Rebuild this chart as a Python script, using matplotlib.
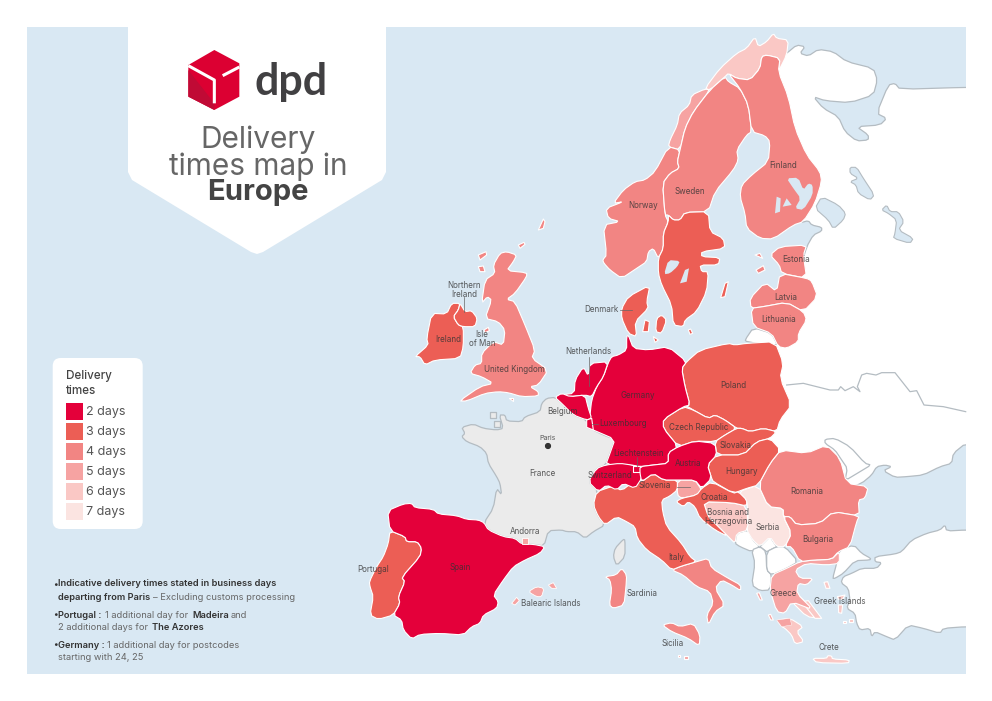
import matplotlib
matplotlib.use("Agg")
import matplotlib.pyplot as plt
from matplotlib.patches import Polygon, Rectangle, FancyBboxPatch, Circle

plt.rcParams['font.family'] = ['Inter', 'DejaVu Sans']

SEA = '#d9e8f3'
FRANCE = '#ebebeb'
GREY = '#b4bcc2'
TEXT = '#444444'
DAY_COLORS = ['#e4003a', '#ec5e55', '#f28583', '#f6a3a2', '#fac8c5', '#fbe4e1']
DAY_LABELS = ['2 days', '3 days', '4 days', '5 days', '6 days', '7 days']


# outlines in 3x crop coordinates, crop origin first
def crop(ox, oy, pts):
    return [(ox + x / 3, oy + y / 3) for x, y in pts]


WEST = (340, 340)
SOUTH = (600, 330)
NORTH = (590, 25)
UK = (400, 210)
EAST = (770, 350)
AEGEAN = (780, 540)
RUSSIA = (780, 30)

# ---- not served, white land ----
russia = ([(772, 62)]
          + crop(*RUSSIA, [(20, 70), (50, 45), (75, 50), (60, 70), (85, 78), (115, 58), (160, 65), (200, 95), (280, 115),
                           (292, 150), (280, 195), (210, 218), (135, 212), (100, 200), (130, 235), (175, 260), (195, 305),
                           (230, 333), (265, 330), (265, 315), (230, 290), (300, 285), (320, 265), (290, 250), (325, 165),
                           (345, 160), (360, 178), (557, 172)])
          + [(1010, 87), (1010, 443)]
          + crop(*EAST, [(587, 280), (550, 310), (545, 340), (510, 350), (460, 375), (410, 380), (375, 382), (340, 362),
                         (365, 350), (345, 345), (320, 350), (305, 375), (275, 400), (230, 415)])
          + [(800, 490), (730, 400), (790, 320), (800, 270)]
          + crop(*RUSSIA, [(80, 650), (100, 615), (125, 603), (125, 592), (95, 585), (85, 572), (62, 578), (0, 300)]))
moldova = crop(*EAST, [(165, 268), (195, 265), (240, 290), (285, 340), (303, 345), (270, 365), (225, 392), (232, 355),
                       (215, 330), (195, 300), (165, 280)])
belarus_line = crop(*EAST, [(50, 105), (100, 100), (180, 120), (205, 120), (212, 110), (225, 122), (250, 110), (270, 125),
                            (262, 110), (275, 75), (290, 70), (318, 75), (335, 68), (375, 68), (420, 125), (440, 122),
                            (462, 165), (520, 170), (587, 185)])
kaliningrad = crop(*NORTH, [(465, 945), (490, 908), (545, 925), (565, 965), (470, 950)])
turkey_asia = ([(1010, 627)]
               + crop(*AEGEAN, [(557, 260), (490, 265), (480, 280), (430, 265), (385, 255), (345, 300), (320, 290),
                                (285, 275), (275, 290), (270, 265), (240, 270), (230, 250), (225, 220), (200, 205),
                                (210, 180), (205, 145), (183, 128), (190, 110), (215, 100), (245, 85), (290, 85),
                                (305, 68), (285, 65), (285, 50), (345, 42), (365, 35), (395, 0)])
               + crop(*EAST, [(470, 550), (510, 540), (525, 525), (530, 543), (587, 540)])
               + [(1010, 530)])
turkey_eu = crop(*AEGEAN, [(158, 115), (170, 70), (178, 30), (222, 15), (245, 40), (272, 55), (270, 60), (225, 62),
                           (190, 100), (165, 115)])
montenegro = crop(*SOUTH, [(405, 640), (410, 610), (445, 600), (458, 630), (480, 650), (455, 665), (420, 650)])
kosovo = crop(*SOUTH, [(480, 650), (510, 620), (530, 650), (500, 665)])
albania = crop(*SOUTH, [(455, 660), (480, 650), (498, 665), (500, 720), (515, 735), (510, 780), (480, 782), (455, 765),
                        (465, 700)])
macedonia = crop(*SOUTH, [(500, 665), (530, 650), (555, 650), (595, 695), (560, 715), (515, 735), (500, 720)])
white_land = [russia, moldova, kaliningrad, turkey_asia, turkey_eu, montenegro, kosovo, albania, macedonia]

# lakes
ladoga = crop(*RUSSIA, [(125, 500), (175, 525), (197, 550), (190, 570), (160, 597), (145, 570), (105, 535)])
onega = crop(*RUSSIA, [(210, 412), (230, 412), (250, 445), (283, 495), (270, 510), (235, 490), (228, 465), (210, 455),
                       (235, 445), (210, 430)])
rybinsk = crop(*RUSSIA, [(305, 540), (320, 525), (330, 545), (355, 545), (372, 575), (355, 600), (400, 625), (390, 640),
                         (340, 625), (345, 610), (350, 570), (325, 550)])
russian_lakes = [ladoga, onega, rybinsk]

# ---- France ----
france = crop(*WEST, [(605, 190), (620, 175), (645, 172), (665, 190), (700, 225), (740, 240), (740, 262), (760, 270),
                      (790, 285), (825, 298), (810, 340), (797, 375), (770, 385), (745, 425), (775, 455), (760, 495),
                      (775, 530), (795, 555), (760, 575), (735, 595), (710, 575), (680, 575), (665, 570), (625, 572),
                      (612, 618), (580, 613), (545, 612), (525, 595), (490, 590), (445, 570), (432, 548), (460, 505),
                      (470, 445), (485, 465), (480, 430), (470, 410), (445, 370), (440, 340), (420, 320), (380, 305),
                      (365, 290), (375, 280), (365, 262), (400, 252), (430, 265), (470, 270), (490, 265), (478, 225),
                      (495, 225), (500, 243), (545, 245), (555, 230), (600, 215)])
corsica = crop(*WEST, [(825, 625), (850, 598), (855, 600), (855, 650), (830, 677), (820, 650)])
jersey = crop(*WEST, [(450, 215), (467, 215), (467, 233), (450, 233)])
guernsey = crop(*WEST, [(462, 243), (480, 243), (480, 260), (462, 260)])
france_parts = [france, corsica, jersey, guernsey]

# ---- 2 days ----
spain = crop(*WEST, [(143, 512), (190, 492), (215, 490), (225, 503), (280, 508), (295, 522), (350, 527), (380, 538),
                     (415, 540), (432, 548), (445, 570), (490, 590), (525, 595), (545, 612), (580, 613), (615, 620),
                     (600, 640), (555, 660), (520, 680), (490, 720), (460, 765), (475, 785), (470, 805), (430, 825),
                     (420, 850), (395, 860), (370, 885), (300, 880), (240, 883), (215, 897), (190, 870), (185, 840),
                     (160, 825), (180, 790), (175, 770), (195, 725), (185, 712), (240, 650), (245, 625), (232, 605),
                     (200, 605), (195, 590), (150, 572)])
germany = (crop(*SOUTH, [(85, 15), (100, 55), (145, 60), (205, 50), (260, 95), (245, 115), (255, 170), (270, 225),
                         (250, 230), (190, 268), (190, 295), (235, 350), (205, 368), (205, 400), (160, 405), (120, 410),
                         (95, 405), (17, 405), (30, 370), (45, 328), (-20, 300), (-40, 292), (-30, 255), (-25, 210),
                         (-10, 170), (10, 140), (25, 98), (35, 80), (55, 75), (80, 60), (80, 20)]))
netherlands = crop(*WEST, [(660, 165), (703, 160), (705, 120), (730, 80), (745, 108), (750, 70), (805, 65), (790, 110),
                           (770, 140), (755, 170), (735, 165), (690, 170)])
belgium = crop(*WEST, [(645, 172), (665, 160), (690, 170), (735, 165), (745, 205), (755, 235), (740, 240), (700, 225),
                       (665, 190)])
luxembourg = crop(*WEST, [(740, 240), (755, 235), (760, 270), (740, 262)])
switzerland = crop(*WEST, [(745, 425), (770, 385), (797, 375), (840, 370), (875, 375), (905, 385), (905, 415), (885, 445),
                           (850, 430), (830, 450), (800, 435), (775, 455)])
liechtenstein = crop(*WEST, [(880, 377), (900, 377), (900, 395), (880, 395)])
austria = crop(*SOUTH, [(120, 410), (160, 405), (205, 400), (205, 368), (235, 350), (285, 333), (345, 340), (350, 375),
                        (322, 405), (335, 445), (305, 475), (285, 450), (232, 450), (190, 450), (160, 430), (125, 455),
                        (120, 430)])
# ---- 3 days ----
portugal = crop(*WEST, [(150, 572), (195, 590), (200, 605), (232, 605), (245, 625), (240, 650), (185, 712), (195, 725),
                        (175, 770), (180, 790), (160, 825), (115, 838), (90, 825), (100, 770), (90, 740), (88, 725),
                        (110, 680), (130, 650), (145, 610)])
ireland = crop(*UK, [(45, 440), (85, 405), (80, 385), (95, 310), (140, 312), (155, 280), (180, 280), (175, 300), (160, 320),
                     (175, 345), (190, 350), (190, 410), (180, 445), (105, 450), (75, 465), (60, 440)])
north_ireland = crop(*UK, [(180, 280), (195, 305), (215, 302), (232, 325), (225, 350), (190, 350), (175, 345), (160, 320),
                           (175, 300)])
poland = crop(*SOUTH, [(260, 95), (300, 60), (385, 40), (405, 45), (440, 40), (525, 35), (550, 100), (540, 145), (575, 225),
                       (540, 270), (530, 305), (490, 295), (450, 305), (425, 295), (410, 295), (375, 270), (345, 255),
                       (325, 265), (280, 240), (255, 225), (270, 225), (255, 170), (245, 115)])
czech = crop(*SOUTH, [(190, 268), (250, 230), (280, 240), (325, 265), (345, 255), (375, 270), (410, 295), (375, 315),
                      (345, 335), (285, 333), (235, 350), (190, 295)])
slovakia = crop(*SOUTH, [(345, 335), (375, 315), (410, 295), (425, 295), (450, 305), (490, 295), (530, 305), (510, 325),
                         (470, 335), (430, 375), (350, 375)])
hungary = crop(*SOUTH, [(350, 375), (430, 375), (470, 335), (510, 325), (542, 360), (510, 400), (475, 465), (440, 475),
                        (400, 490), (340, 455), (335, 445), (322, 405)])
croatia = crop(*SOUTH, [(335, 455), (400, 490), (415, 485), (440, 510), (440, 528), (395, 518), (310, 515), (325, 560),
                        (340, 575), (385, 620), (345, 600), (300, 565), (285, 530), (265, 515), (250, 530), (228, 515),
                        (245, 505), (290, 495), (305, 475)])
italy_north = crop(*SOUTH, [(-10, 485), (40, 468), (65, 482), (100, 455), (125, 455), (160, 430), (190, 450), (232, 450),
                            (232, 480), (210, 498), (185, 510), (188, 545), (200, 590), (245, 640), (270, 680), (290, 695),
                            (245, 708), (215, 720), (185, 690), (140, 660), (112, 625), (105, 590), (80, 575), (50, 560),
                            (15, 585), (-5, 560), (-20, 525)])
sweden_south = crop(*NORTH, [(235, 570), (250, 585), (270, 585), (285, 562), (355, 560), (360, 620), (400, 640), (405, 670),
                             (335, 680), (335, 695), (390, 698), (385, 720), (330, 720), (335, 740), (355, 740), (350, 800),
                             (320, 860), (285, 885), (280, 905), (250, 900), (245, 840), (215, 780), (205, 745), (205, 700),
                             (220, 670), (220, 625), (235, 590)])
gotland = crop(*NORTH, [(392, 818), (405, 775), (415, 770), (405, 815)])
oland = crop(*NORTH, [(295, 915), (302, 912), (308, 925), (300, 928)])
jutland = crop(*NORTH, [(95, 850), (115, 815), (180, 780), (170, 830), (175, 850), (135, 890), (140, 935), (115, 925),
                        (95, 880)])
zealand = crop(*NORTH, [(200, 880), (215, 870), (230, 885), (215, 925), (197, 920)])
fyn = crop(*NORTH, [(165, 885), (178, 890), (175, 920), (158, 920)])
lolland = crop(*NORTH, [(190, 935), (205, 945), (195, 952)])
# ---- 4 days ----
uk = crop(*UK, [(300, 130), (320, 125), (350, 135), (340, 155), (320, 182), (380, 188), (380, 200), (345, 250), (320, 268),
                (345, 275), (375, 345), (405, 420), (395, 445), (445, 480), (415, 525), (390, 530), (415, 545), (415, 558),
                (365, 560), (325, 548), (295, 545), (255, 550), (200, 573), (178, 573), (240, 530), (280, 520), (245, 500),
                (210, 490), (225, 465), (245, 460), (245, 430), (280, 395), (310, 405), (315, 360), (295, 335), (255, 325),
                (275, 270), (262, 260), (245, 280), (255, 210), (285, 190), (280, 165)])
hebrides = crop(*UK, [(235, 135), (258, 125), (260, 135), (240, 150)])
skye = crop(*UK, [(235, 170), (250, 168), (255, 185), (240, 185)])
orkney = crop(*UK, [(355, 105), (372, 97), (375, 103), (360, 115)])
shetland = crop(*UK, [(415, 60), (430, 27), (435, 35), (430, 55)])
isle_of_man = crop(*UK, [(252, 360), (265, 352), (268, 362), (255, 368)])
wight = crop(*UK, [(328, 565), (340, 565), (340, 572)])
norway = crop(*NORTH, [(38, 705), (50, 690), (40, 600), (90, 590), (55, 580), (48, 550), (100, 530), (70, 535), (100, 495),
                       (135, 470), (165, 465), (195, 440), (235, 365), (270, 375), (262, 410), (268, 430), (240, 445),
                       (218, 475), (225, 570), (235, 590), (220, 625), (220, 670), (205, 700), (190, 670), (175, 680),
                       (170, 710), (140, 730), (95, 760), (60, 735), (42, 715)])
sweden_north = crop(*NORTH, [(360, 195), (405, 155), (415, 170), (450, 190), (475, 240), (485, 320), (470, 330), (440, 375),
                             (445, 405), (430, 435), (375, 500), (355, 560), (285, 562), (270, 585), (250, 585), (235, 570),
                             (225, 570), (218, 475), (240, 445), (268, 430), (262, 410), (270, 375), (285, 310), (310, 260)])
finland = crop(*NORTH, [(415, 145), (440, 160), (480, 165), (510, 130), (515, 95), (530, 90), (570, 100), (565, 140),
                        (595, 215), (615, 310), (650, 390), (690, 440), (695, 470), (675, 535), (640, 590), (610, 600),
                        (550, 642), (510, 640), (470, 610), (465, 565), (450, 515), (455, 480), (485, 450), (535, 410),
                        (540, 350), (525, 332), (485, 320), (475, 240), (450, 190)])
estonia = crop(*NORTH, [(540, 690), (570, 665), (650, 660), (640, 690), (650, 760), (575, 745), (568, 720)])
saaremaa = crop(*NORTH, [(498, 735), (520, 722), (525, 735), (505, 745)])
hiiumaa = crop(*NORTH, [(495, 690), (510, 685), (518, 700)])
latvia = crop(*NORTH, [(480, 820), (525, 772), (560, 800), (570, 745), (650, 760), (665, 768), (683, 815), (640, 860),
                       (590, 832), (520, 845), (483, 850)])
lithuania = crop(*NORTH, [(483, 850), (520, 845), (590, 832), (640, 860), (650, 885), (625, 925), (625, 950), (590, 970),
                          (565, 965), (545, 925), (490, 905)])
romania = crop(*SOUTH, [(542, 360), (620, 370), (680, 345), (720, 385), (740, 460), (805, 470), (795, 505), (775, 510),
                        (778, 558), (700, 545), (660, 580), (590, 585), (570, 560), (550, 560), (550, 535), (505, 530),
                        (475, 465), (510, 400)])
bulgaria = crop(*SOUTH, [(570, 560), (590, 585), (660, 580), (700, 545), (778, 558), (770, 575), (750, 650), (715, 665),
                         (695, 688), (640, 690), (600, 695), (575, 650), (555, 650), (575, 610), (550, 560)])
italy_south = crop(*SOUTH, [(215, 720), (245, 708), (290, 695), (325, 685), (335, 715), (385, 745), (422, 765), (422, 782),
                            (395, 765), (365, 750), (345, 775), (375, 825), (345, 845), (325, 885), (320, 855), (340, 820),
                            (330, 785), (290, 770), (250, 735)])
sicily = crop(*SOUTH, [(187, 885), (215, 878), (240, 890), (280, 880), (300, 915), (298, 948), (265, 925), (215, 905)])
sardinia = crop(*SOUTH, [(15, 740), (48, 735), (65, 715), (80, 735), (78, 770), (72, 825), (40, 835), (28, 825), (35, 780),
                         (30, 750)])
# ---- 5 days ----
nordland = crop(*NORTH, [(235, 365), (240, 345), (262, 300), (268, 265), (298, 240), (305, 210), (345, 192), (360, 195),
                         (310, 260), (285, 310), (270, 375)])
slovenia = crop(*SOUTH, [(232, 450), (285, 450), (305, 480), (290, 495), (245, 505), (232, 495)])
greece = crop(*SOUTH, [(515, 735), (560, 715), (600, 695), (640, 690), (695, 688), (718, 665), (718, 700), (680, 705),
                       (620, 700), (585, 720), (600, 745), (640, 745), (620, 765), (595, 760), (590, 790), (640, 840),
                       (575, 815), (555, 850), (530, 845), (510, 780)])
peloponnese_n = crop(*SOUTH, [(530, 870), (570, 865), (575, 885), (545, 890)])
corfu = crop(*SOUTH, [(470, 790), (478, 788), (487, 810), (480, 810)])
kefalonia = crop(*SOUTH, [(505, 855), (512, 853), (520, 870), (512, 870)])
balearic_m = crop(*WEST, [(565, 755), (590, 740), (612, 745), (605, 770), (590, 770)])
balearic_e = crop(*WEST, [(625, 735), (640, 728), (650, 745), (635, 745)])
balearic_i = crop(*WEST, [(515, 790), (530, 772), (538, 782), (525, 795)])
sicily_islet_1 = crop(*SOUTH, [(233, 975), (240, 975), (240, 981), (233, 981)])
sicily_islet_2 = crop(*SOUTH, [(252, 979), (264, 979), (264, 986), (252, 986)])
# ---- 6 days ----
finnmark = crop(*NORTH, [(345, 190), (390, 130), (440, 85), (470, 70), (495, 35), (505, 65), (530, 50), (550, 25), (560, 40),
                         (595, 45), (590, 90), (565, 140), (570, 100), (530, 90), (515, 95), (510, 130), (480, 165),
                         (440, 160), (415, 145), (405, 155), (360, 195)])
bosnia = crop(*SOUTH, [(310, 515), (395, 518), (440, 528), (445, 600), (410, 610), (405, 640), (385, 620), (340, 575),
                       (325, 560)])
peloponnese_s = crop(*SOUTH, [(530, 870), (570, 865), (610, 890), (590, 905), (612, 935), (585, 942), (575, 915), (555, 895),
                              (545, 890)])
attica = crop(*SOUTH, [(590, 790), (640, 840), (660, 865), (620, 860), (575, 815)])
euboea = crop(*SOUTH, [(605, 815), (625, 812), (665, 865), (645, 865)])
crete = crop(*SOUTH, [(637, 985), (680, 985), (683, 977), (695, 978), (697, 987), (748, 990), (745, 1000), (650, 998)])
aegean_1 = crop(*SOUTH, [(672, 757), (683, 755), (690, 775), (678, 775)])
aegean_2 = crop(*SOUTH, [(712, 800), (735, 795), (728, 808), (715, 808)])
aegean_3 = crop(*SOUTH, [(715, 825), (728, 825), (725, 850), (716, 848)])
aegean_4 = crop(*SOUTH, [(728, 872), (738, 872), (738, 880), (728, 880)])
aegean_5 = crop(*SOUTH, [(748, 868), (758, 868), (758, 876), (748, 876)])
# ---- 7 days ----
serbia = crop(*SOUTH, [(415, 485), (475, 465), (505, 530), (550, 535), (550, 560), (575, 610), (555, 650), (530, 650),
                       (510, 620), (480, 650), (458, 630), (440, 600), (445, 560), (440, 510)])

days_2 = [spain, germany, netherlands, belgium, luxembourg, switzerland, liechtenstein, austria]
days_3 = [portugal, ireland, north_ireland, poland, czech, slovakia, hungary, croatia, italy_north, sweden_south, gotland,
          oland, jutland, zealand, fyn, lolland]
days_4 = [uk, hebrides, skye, orkney, shetland, isle_of_man, wight, norway, sweden_north, finland, estonia, saaremaa,
          hiiumaa, latvia, lithuania, romania, bulgaria, italy_south, sicily, sardinia]
days_5 = [nordland, slovenia, greece, corfu, kefalonia, sicily_islet_1, sicily_islet_2]
days_6 = [finnmark, bosnia, peloponnese_s, attica, euboea, crete, aegean_1, aegean_2, aegean_3, aegean_4, aegean_5]
days_7 = [serbia]
andorra = crop(*WEST, [(547, 595), (563, 595), (563, 611), (547, 611)])
balearics = [balearic_m, balearic_e, balearic_i]

# lakes inside the countries
vanern = crop(*NORTH, [(222, 748), (235, 705), (270, 708), (262, 725), (240, 745)])
vattern = crop(*NORTH, [(270, 775), (285, 735), (297, 730), (290, 770)])
saimaa = crop(*NORTH, [(590, 460), (625, 458), (640, 495), (655, 475), (668, 480), (668, 510), (640, 555), (615, 550),
                       (632, 520), (610, 490)])
paijanne = crop(*NORTH, [(555, 565), (560, 515), (572, 520), (570, 560)])
nasi = crop(*NORTH, [(578, 545), (590, 520), (605, 540)])
inner_lakes = [vanern, vattern, saimaa, paijanne, nasi]

country_labels = ['Norway', 'Sweden', 'Finland', 'Estonia', 'Latvia', 'Lithuania', 'Denmark', 'Northern\nIreland',
                  'Isle\nof Man', 'Ireland', 'United Kingdom', 'Netherlands', 'Belgium', 'Germany', 'Luxembourg',
                  'Poland', 'Czech Republic', 'Slovakia', 'Austria', 'Liechtenstein', 'Switzerland', 'Slovenia',
                  'Hungary', 'Croatia', 'Bosnia and\nHerzegovina', 'Serbia', 'Romania', 'Bulgaria', 'Italy', 'Sardinia',
                  'Sicilia', 'Greece', 'Greek Islands', 'Crete', 'Balearic Islands', 'Andorra', 'France', 'Paris',
                  'Spain', 'Portugal']
label_x = [643, 690, 783, 796, 786, 779, 601, 464, 482, 448, 514, 588, 562, 638, 623, 733, 699, 736, 688, 639, 610, 655,
           741, 714, 728, 768, 807, 818, 676, 642, 673, 783, 840, 829, 551, 525, 542, 548, 460, 373]
label_y = [206, 191, 166, 260, 297, 319, 309, 290, 339, 340, 370, 352, 412, 395, 424, 385, 428, 445, 463, 453, 476, 486,
           472, 497, 517, 528, 491, 540, 558, 593, 644, 593, 601, 648, 603, 532, 474, 438, 568, 570]

fig = plt.figure(figsize=(9.92, 7.01), dpi=100, facecolor='white')
ax = fig.add_axes([0, 0, 1, 1])
ax.set_xlim(0, 992)
ax.set_ylim(701, 0)
ax.axis('off')

sea_rect = Rectangle((27, 27), 939, 647, facecolor=SEA, edgecolor='none')
ax.add_patch(sea_rect)


# soften the corners, the outlines above are only coarse
def soften(pts, t=0.2):
    if len(pts) <= 4:
        return pts
    out = []
    n = len(pts)
    for i in range(n):
        x0, y0 = pts[i]
        x1, y1 = pts[(i + 1) % n]
        out.append((x0 + t * (x1 - x0), y0 + t * (y1 - y0)))
        out.append((x1 - t * (x1 - x0), y1 - t * (y1 - y0)))
    return out


def draw(polys, color, edge='white', lw=0.8, z=2):
    for p in polys:
        patch = Polygon(soften(p), closed=True, facecolor=color, edgecolor=edge, linewidth=lw, joinstyle='round', zorder=z)
        ax.add_patch(patch)
        patch.set_clip_path(sea_rect)


draw(white_land, 'white', GREY, 0.9, 1.5)
ax.plot(*zip(*belarus_line), color=GREY, lw=0.9, zorder=1.6)
draw(russian_lakes, SEA, GREY, 0.8, 1.7)
draw(france_parts, FRANCE, GREY, 0.9, 2)

for polys, color in zip([days_7, days_6, days_5, days_4, days_3, days_2], DAY_COLORS[::-1]):
    draw(polys, color, 'white', 0.8, 3)
draw([peloponnese_n], DAY_COLORS[3], 'white', 0.3, 3.2)
draw([andorra] + balearics, DAY_COLORS[3], 'white', 0.6, 3.5)
draw(inner_lakes, SEA, 'none', 0, 3.6)

# leader lines
leaders = [crop(*UK, [(193, 262), (193, 305)]), crop(*WEST, [(746, 50), (746, 138)]), crop(*WEST, [(757, 252), (775, 252)]),
           crop(*WEST, [(890, 350), (890, 378)]), crop(*SOUTH, [(232, 472), (270, 472)]), crop(*NORTH, [(90, 855), (125, 855)])]
for seg in leaders:
    ax.plot(*zip(*seg), color='#666666', lw=0.5, zorder=4)

ax.add_patch(Circle((548, 446), 2.4, color='#333333', zorder=4))

for name, lx, ly in zip(country_labels, label_x, label_y):
    size = 5.0 if name == 'Paris' else 5.8
    ax.text(lx, ly, name, ha='center', va='center', fontsize=size, color='#333333', alpha=0.8, zorder=5, linespacing=1.05)

# banner with logo and title
banner = [(128, 27), (386, 27), (386, 172), (382, 180), (263, 252), (257, 254), (251, 252), (132, 180), (128, 172)]
ax.add_patch(Polygon(banner, closed=True, facecolor='white', edgecolor='none', zorder=6))
LOGO = (120, 25)
cube = crop(*LOGO, [(283, 75), (358, 115), (358, 215), (283, 255), (205, 215), (205, 120)])
cube_dark = crop(*LOGO, [(205, 135), (283, 235), (283, 255), (205, 215)])
ax.add_patch(Polygon(cube, closed=True, facecolor='#dc0032', edgecolor='none', zorder=7))
ax.add_patch(Polygon(cube_dark, closed=True, facecolor='#c00a35', edgecolor='none', zorder=7.1))
for seg in [[(205, 122), (283, 165), (283, 235)], [(308, 152), (358, 126)]]:
    ax.plot(*zip(*crop(*LOGO, seg)), color='white', lw=2.2, zorder=7.2, solid_capstyle='butt')
ax.text(291, 82, 'dpd', ha='center', va='center', fontsize=31, fontweight='bold', color='#414042', zorder=7,
        family=['Lato', 'DejaVu Sans'])

ax.text(258, 140, 'Delivery', ha='center', va='center', fontsize=21.5, color='#666666', zorder=7)
ax.text(258, 167, 'times map in', ha='center', va='center', fontsize=21.5, color='#666666', zorder=7)
ax.text(258, 193, 'Europe', ha='center', va='center', fontsize=21, fontweight='bold', color='#444444', zorder=7)

# legend
ax.add_patch(FancyBboxPatch((60.7, 366), 74, 155, boxstyle='round,pad=8,rounding_size=8', facecolor='white',
                            edgecolor='none', zorder=6))
ax.text(66, 376, 'Delivery', ha='left', va='center', fontsize=8.4, fontweight='medium', color=TEXT, zorder=7)
ax.text(66, 391, 'times', ha='left', va='center', fontsize=8.4, fontweight='medium', color=TEXT, zorder=7)
for i, (col, lab) in enumerate(zip(DAY_COLORS, DAY_LABELS)):
    ax.add_patch(Rectangle((66, 403 + i * 20), 17, 16.5, facecolor=col, edgecolor='none', zorder=7))
    ax.text(86, 411.5 + i * 20, lab, ha='left', va='center', fontsize=9, color='#555555', zorder=7)

# notes, text pieces with their place and weight
notes_text = ['•', 'Indicative delivery times stated in business days',
              'departing from Paris', '– Excluding customs processing',
              '•', 'Portugal :', '1 additional day for', 'Madeira', 'and',
              '2 additional days for', 'The Azores',
              '•', 'Germany :', '1 additional day for postcodes',
              'starting with 24, 25']
notes_x = [53, 58, 58, 153, 53, 58, 105, 192, 231, 58, 152, 53, 58, 107, 58]
notes_y = [584, 584, 597, 597, 615, 615, 615, 615, 615, 627, 627, 645, 645, 645, 657]
notes_bold = [1, 1, 1, 0, 1, 1, 0, 1, 0, 0, 1, 1, 1, 0, 0]
for s, nx, ny, b in zip(notes_text, notes_x, notes_y, notes_bold):
    ax.text(nx, ny, s, ha='left', va='center', fontsize=6.7, color='#333333' if b else '#666666',
            fontweight='semibold' if b else 'normal', zorder=5)

fig.savefig('out.png', dpi=100, facecolor='white')
